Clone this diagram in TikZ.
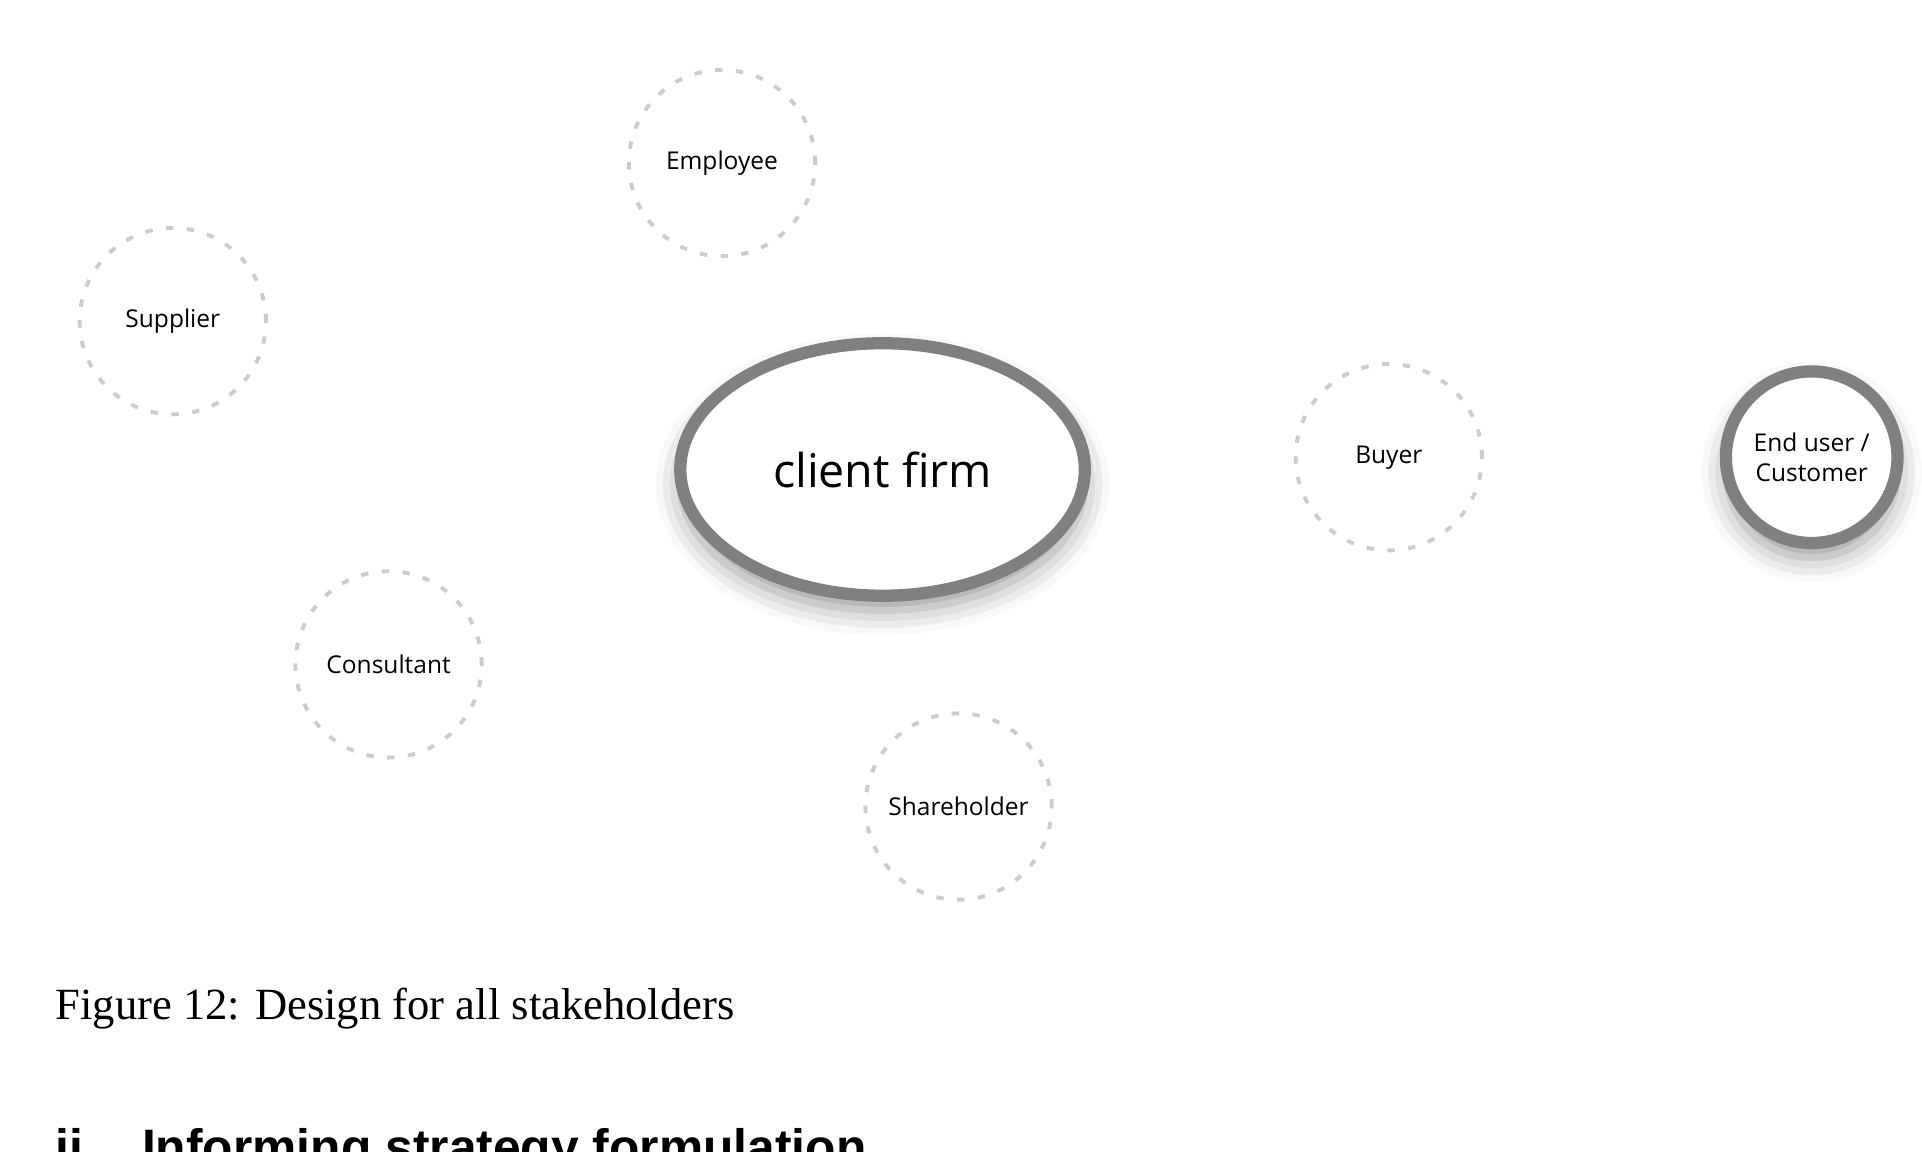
\documentclass[tikz,border=0pt]{standalone}
\usepackage{fontspec}
\setmainfont{Liberation Serif}
\newfontfamily\lab{Open Sans}
\newfontfamily\head{Liberation Sans}
\usetikzlibrary{shadows.blur,shapes.geometric}
\begin{document}
\begin{tikzpicture}[x=0.5pt,y=-0.5pt,
  dc/.style={circle,draw=black!20,line width=1.6pt,dash pattern=on 3pt off 5.5pt,minimum size=76pt,font=\lab\fontsize{10}{12}\selectfont,align=center},
  strong/.style={draw=black!50,line width=5pt,fill=white,blur shadow={shadow xshift=0pt,shadow yshift=-6pt,shadow blur radius=10pt,shadow opacity=40},align=center}]
\useasboundingbox (0,0) rectangle (1568,939);
\node[dc] (emp) at (589,133) {Employee};
\node[dc] (sup) at (141,262) {Supplier};
\node[dc] (buy) at (1133,373) {Buyer};
\node[dc] (con) at (317,542) {Consultant};
\node[dc] (sha) at (782,658) {Shareholder};
\node[strong,ellipse,minimum width=165pt,minimum height=103pt,inner sep=0pt,font=\lab\fontsize{19}{22}\selectfont] (cf) at (720,383) {client firm};
\node[strong,circle,minimum size=70pt,inner sep=0pt,font=\lab\fontsize{10}{12}\selectfont] (eu) at (1478,373) {End user /\\Customer};
\node[anchor=base west,font=\fontsize{18.2}{20}\selectfont,inner sep=0pt] (cap) at (45,832) {Figure 12: Design for all stakeholders};
\begin{scope}
\clip (0,0) rectangle (1568,939);
\node[anchor=base west,font=\head\bfseries\fontsize{20.3}{22}\selectfont,inner sep=0pt] (h) at (45,950) {ii\hspace{24pt}Informing strategy formulation};
\end{scope}
\end{tikzpicture}
\end{document}
